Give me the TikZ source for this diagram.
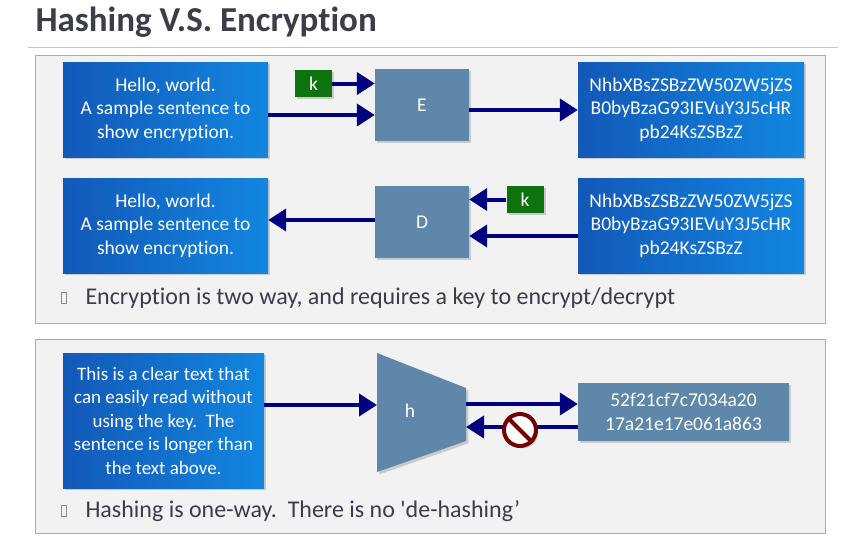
\documentclass[tikz,border=0pt]{standalone}
\usepackage{fontspec}
\setmainfont{Carlito}[Ligatures={NoCommon,NoRare}]
\usetikzlibrary{arrows.meta,shapes.geometric,shadows,positioning}
\definecolor{navy}{HTML}{000080}
\definecolor{boxblue}{HTML}{1668D8}
\definecolor{steel}{HTML}{5F87AA}
\definecolor{keygreen}{HTML}{0E720E}
\definecolor{panel}{HTML}{F2F2F2}
\definecolor{panelline}{HTML}{A4ABC8}
\definecolor{ink}{HTML}{3C3C4A}
\tikzset{
    x=1pt,y=-1pt,
    plain/.style ={draw=none, text=white, align=center, font=\fontsize{19.5}{23.5}\selectfont, drop shadow={opacity=0.35}},
    txt/.style = {plain, left color=boxblue!85!black, right color=boxblue!80!cyan},
    fn/.style = {plain, fill=steel},
    key/.style = {plain, fill=keygreen, minimum width=37pt, minimum height=27pt},
    flow/.style = {-{Triangle[length=18pt,width=22pt]}, navy, line width=4pt},
    bul/.style = {anchor=west, text=ink, font=\fontsize{24}{28}\selectfont}
}
\begin{document}
\begin{tikzpicture}
    \useasboundingbox (0,0) rectangle (846,539);
    \node[anchor=west, text=ink, font=\fontsize{35}{40}\selectfont\bfseries] (title) at (32,22) {Hashing V.S. Encryption};
    \draw[panelline!70, line width=1pt] (28,47) -- (838,47);
    \draw[panelline, fill=panel] (35,55) rectangle (825,323);
    \draw[panelline, fill=panel] (35,339) rectangle (825,533);

    % encryption
    \node[txt, minimum width=205pt, minimum height=95pt] (in1) at (165.5,109.5) {Hello, world.\\A sample sentence to\\show encryption.};
    \node[key] (k1) at (313.5,83.5) {k};
    \node[fn, minimum width=94pt, minimum height=72pt] (E) at (422,105) {E};
    \node[txt, minimum width=226pt, minimum height=95pt] (out1) at (691,109.5) {NhbXBsZSBzZW50ZW5jZS\\B0byBzaG93IEVuY3J5cHR\\pb24KsZSBzZ};
    \draw[flow] (k1.east) -- (k1.east -| E.west);
    \draw[flow] (in1.east |- 0,115) -- (E.west |- 0,115);
    \draw[flow] (E.east |- 0,110) -- (out1.west |- 0,110);

    % decryption
    \node[txt, minimum width=205pt, minimum height=95pt] (in2) at (165.5,225.5) {Hello, world.\\A sample sentence to\\show encryption.};
    \node[fn, minimum width=94pt, minimum height=72pt] (D) at (422,222) {D};
    \node[key] (k2) at (525,199.5) {k};
    \node[txt, minimum width=226pt, minimum height=95pt] (out2) at (691,225.5) {NhbXBsZSBzZW50ZW5jZS\\B0byBzaG93IEVuY3J5cHR\\pb24KsZSBzZ};
    \draw[flow] (k2.west) -- (k2.west -| D.east);
    \draw[flow] (out2.west |- 0,236) -- (D.east |- 0,236);
    \draw[flow] (D.west |- 0,220) -- (in2.east |- 0,220);

    \node[draw=ink!60, line width=0.4pt, minimum width=5pt, minimum height=11pt, inner sep=0pt] (b1) at (64,298) {};
    \node[bul] (t1) at (82,298) {Encryption is two way, and requires a key to encrypt/decrypt};

    % hashing
    \node[txt, minimum width=201pt, minimum height=135pt, font=\fontsize{19}{23.5}\selectfont] (in3) at (163.5,420.5) {This is a clear text that\\can easily read without\\using the key.\ \ The\\sentence is longer than\\the text above.};
    \path[fill=steel, drop shadow={opacity=0.35}] (377,353) -- (466,388) -- (466,441) -- (377,472) -- cycle;
    \node[text=white, font=\fontsize{19.5}{22}\selectfont] (h) at (410,411) {h};
    \coordinate (hin) at (377,405);
    \coordinate (hout) at (466,404);
    \coordinate (hback) at (466,427);
    \node[fn, minimum width=211pt, minimum height=58pt] (hash) at (683.5,412) {52f21cf7c7034a20\\17a21e17e061a863};
    \draw[flow] (in3.east |- hin) -- (hin);
    \draw[flow] (hout) -- (hash.west |- hout);
    \draw[flow] (hash.west |- hback) -- (hback);
    \node[circle, draw=red!45!black, fill=white, line width=4pt, minimum size=32pt, drop shadow={opacity=0.3}] (no) at (520,430) {};
    \draw[red!45!black, line width=4pt] (no.north west) -- (no.south east);

    \node[draw=ink!60, line width=0.4pt, minimum width=5pt, minimum height=11pt, inner sep=0pt] (b2) at (64,511) {};
    \node[bul] (t2) at (82,511) {Hashing is one-way.\ \ There is no \textquotesingle de-hashing’};
\end{tikzpicture}
\end{document}
